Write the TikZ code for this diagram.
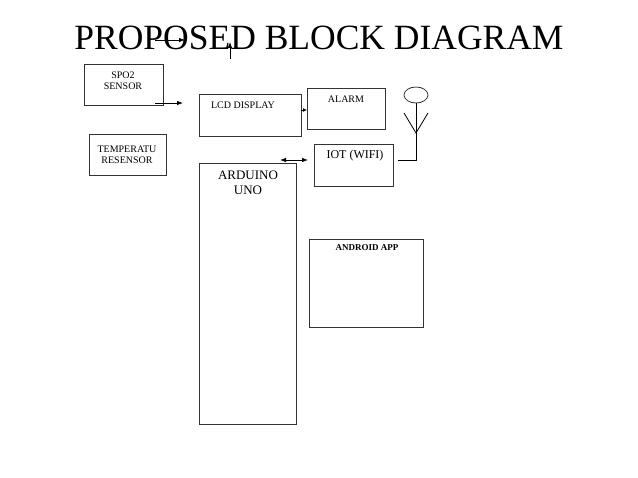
\documentclass[tikz,border=0pt]{standalone}
\usepackage{fontspec}
\setmainfont{Liberation Serif}
\usetikzlibrary{arrows.meta,shapes.geometric}
\begin{document}
\begin{tikzpicture}[x=1pt,y=-1pt,
  box/.style={draw=black!80,line width=0.8pt},
  lbl/.style={font=\fontsize{10}{11}\selectfont,align=center,inner sep=0},
  arr/.style={line width=0.8pt,-{Latex[length=6pt,width=4.5pt]}}]
\useasboundingbox (0,0) rectangle (638,478);
\node[inner sep=0,font=\fontsize{35.5}{38}\selectfont] (title) at (319,38) {PROPOSED BLOCK DIAGRAM};
\draw[box] (84,64) rectangle (163,105);
\node[lbl] (spo) at (123,81) {SPO2\\SENSOR};
\draw[box] (89,134) rectangle (166,175);
\node[lbl] (temp) at (127,155) {TEMPERATU\\RESENSOR};
\draw[box] (199,94) rectangle (301,136);
\node[lbl] (lcd) at (243,105) {LCD DISPLAY};
\draw[box] (307,88) rectangle (385,129);
\node[lbl] (alarm) at (346,99) {ALARM};
\draw[box] (314,144) rectangle (393,186);
\node[lbl,font=\fontsize{12}{13}\selectfont] (iot) at (355,156) {IOT (WIFI)};
\draw[box] (199,163) rectangle (296,424);
\node[lbl,font=\fontsize{13}{15}\selectfont] (ard) at (248,183) {ARDUINO\\UNO};
\draw[box] (309,239) rectangle (423,327);
\node[lbl,font=\bfseries\fontsize{9}{10}\selectfont] (and) at (367,248) {ANDROID APP};
\coordinate (t1) at (155,40); \coordinate (t2) at (185,40);
\draw[arr] (t1) -- (t2);
\coordinate (v1) at (230,59); \coordinate (v2) at (230,42);
\draw[arr] (v1) -- (v2);
\coordinate (s1) at (155,103); \coordinate (s2) at (183,103);
\draw[arr] (s1) -- (s2);
\coordinate (l1) at (301,110); \coordinate (l2) at (307,110);
\draw[line width=0.8pt,-{Latex[length=4pt,width=4pt]}] (l1) -- (l2);
\coordinate (d1) at (280,160); \coordinate (d2) at (308,160);
\draw[line width=0.8pt,{Latex[length=6pt,width=4.5pt]}-{Latex[length=6pt,width=4.5pt]}] (d1) -- (d2);
\node[draw=black!80,line width=0.8pt,ellipse,minimum width=24pt,minimum height=16pt,inner sep=0] (ant) at (416,95) {};
\coordinate (a1) at (416,160); \coordinate (a2) at (398,160);
\draw[line width=0.8pt] (ant.south) -- (a1) -- (a2);
\coordinate (vl) at (404,113); \coordinate (vr) at (428,113); \coordinate (vb) at (416,133);
\draw[line width=0.8pt] (vl) -- (vb) -- (vr);
\end{tikzpicture}
\end{document}
